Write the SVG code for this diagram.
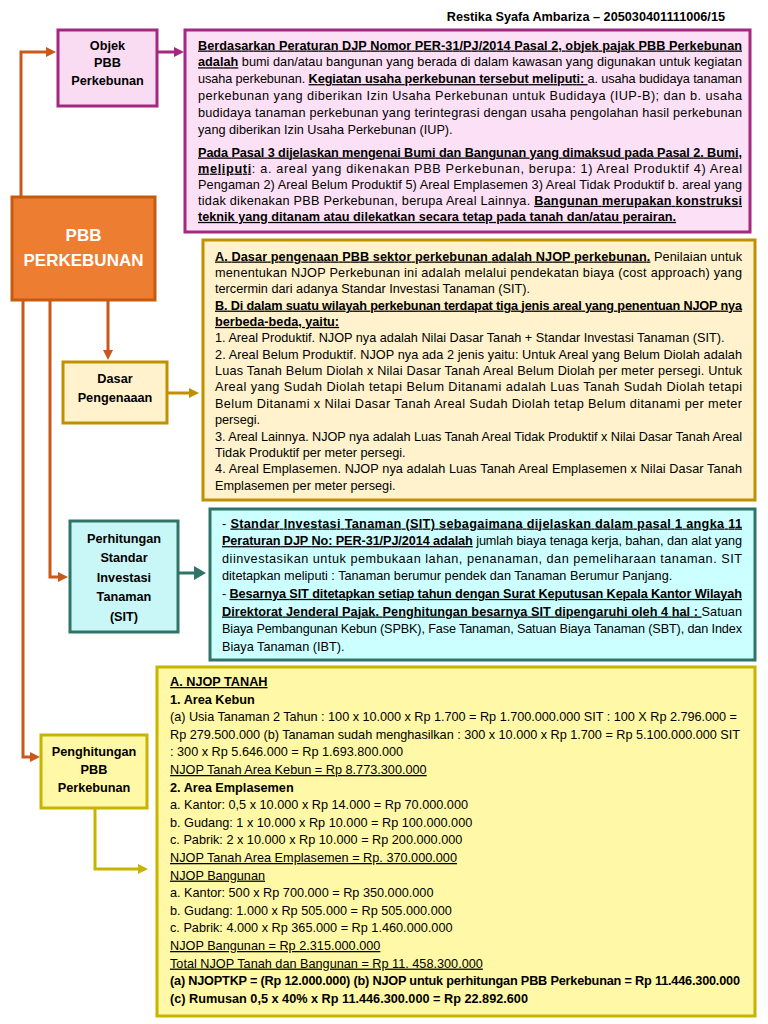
<svg xmlns="http://www.w3.org/2000/svg" width="768" height="1024" viewBox="0 0 768 1024">
<defs>
<style>
text{font-family:"Liberation Sans",Arial,sans-serif;font-size:12.7px;fill:#000}
.b{font-weight:bold}
.u{text-decoration:underline}
.c{text-anchor:middle;font-weight:bold}
.con{fill:none;stroke-width:3}
</style>
<marker id="mo" markerUnits="userSpaceOnUse" markerWidth="10" markerHeight="10" refX="2" refY="5" orient="auto"><path d="M0,0L10,5L0,10z" fill="#C9581A"/></marker>
<marker id="mm" markerUnits="userSpaceOnUse" markerWidth="10" markerHeight="10" refX="2" refY="5" orient="auto"><path d="M0,0L10,5L0,10z" fill="#A3287F"/></marker>
<marker id="mg" markerUnits="userSpaceOnUse" markerWidth="10" markerHeight="10" refX="2" refY="5" orient="auto"><path d="M0,0L10,5L0,10z" fill="#BF9000"/></marker>
<marker id="my" markerUnits="userSpaceOnUse" markerWidth="10" markerHeight="10" refX="2" refY="5" orient="auto"><path d="M0,0L10,5L0,10z" fill="#C8B400"/></marker>
<marker id="mt" markerUnits="userSpaceOnUse" markerWidth="12" markerHeight="14" refX="2" refY="7" orient="auto"><path d="M0,0L12,7L0,14z" fill="#2F7466"/></marker>
</defs>
<rect width="768" height="1024" fill="#fff"/>
<text class="b" x="725" y="21" text-anchor="end">Restika Syafa Ambariza – 205030401111006/15</text>

<g id="connectors">
<path class="con" stroke="#C9581A" d="M21,197V52H48" marker-end="url(#mo)"/>
<path class="con" stroke="#C9581A" d="M108,300V352" marker-end="url(#mo)"/>
<path class="con" stroke="#C9581A" d="M50,300V577H60" marker-end="url(#mo)"/>
<path class="con" stroke="#C9581A" d="M23,300V757H32" marker-end="url(#mo)"/>
<path class="con" stroke="#A3287F" d="M158,52H176" marker-end="url(#mm)"/>
<path class="con" stroke="#BF9000" d="M168,393H191" marker-end="url(#mg)"/>
<path class="con" stroke="#2F7466" stroke-width="5" d="M179,573H196" marker-end="url(#mt)"/>
<path class="con" stroke="#C8B400" d="M95,808V869H140" marker-end="url(#my)"/>
</g>

<g id="objek">
<rect x="58" y="30" width="99" height="76" fill="#FADCF2" stroke="#A3287F" stroke-width="3"/>
<text class="c" x="107.5" y="50">Objek</text>
<text class="c" x="107.5" y="67">PBB</text>
<text class="c" x="107.5" y="85">Perkebunan</text>
</g>

<g id="objek-detail">
<rect x="185" y="30" width="565" height="202" fill="#FCE0F5" stroke="#A3287F" stroke-width="3"/>
<text x="198" y="49.5" textLength="544"><tspan class="b u">Berdasarkan Peraturan DJP Nomor PER-31/PJ/2014 Pasal 2, objek pajak PBB Perkebunan</tspan></text>
<text x="198" y="66.3" textLength="544"><tspan class="b u">adalah</tspan> bumi dan/atau bangunan yang berada di dalam kawasan yang digunakan untuk kegiatan</text>
<text x="198" y="83.1" textLength="544">usaha perkebunan. <tspan class="b u">Kegiatan usaha perkebunan tersebut meliputi: </tspan>a. usaha budidaya tanaman</text>
<text x="198" y="99.9" textLength="544">perkebunan yang diberikan Izin Usaha Perkebunan untuk Budidaya (IUP-B); dan b. usaha</text>
<text x="198" y="116.7" textLength="544">budidaya tanaman perkebunan yang terintegrasi dengan usaha pengolahan hasil perkebunan</text>
<text x="198" y="133.5">yang diberikan Izin Usaha Perkebunan (IUP).</text>
<text x="198" y="156.5" textLength="544"><tspan class="b u">Pada Pasal 3 dijelaskan mengenai Bumi dan Bangunan yang dimaksud pada Pasal 2. Bumi,</tspan></text>
<text x="198" y="172.6" textLength="544"><tspan class="b u">meliputi</tspan>: a. areal yang dikenakan PBB Perkebunan, berupa: 1) Areal Produktif 4) Areal</text>
<text x="198" y="188.7" textLength="544">Pengaman 2) Areal Belum Produktif 5) Areal Emplasemen 3) Areal Tidak Produktif b. areal yang</text>
<text x="198" y="204.8" textLength="544">tidak dikenakan PBB Perkebunan, berupa Areal Lainnya. <tspan class="b u">Bangunan merupakan konstruksi</tspan></text>
<text x="198" y="220.9"><tspan class="b u">teknik yang ditanam atau dilekatkan secara tetap pada tanah dan/atau perairan.</tspan></text>
</g>

<g id="pbb">
<rect x="12" y="197" width="143" height="103" fill="#ED7D31" stroke="#C55A11" stroke-width="3"/>
<text class="c" x="83.5" y="241" style="font-size:17px;fill:#fff">PBB</text>
<text class="c" x="83.5" y="266" style="font-size:17px;fill:#fff">PERKEBUNAN</text>
</g>

<g id="dasar">
<rect x="63" y="362" width="104" height="61" fill="#FFF2CC" stroke="#BF9000" stroke-width="3"/>
<text class="c" x="115" y="383">Dasar</text>
<text class="c" x="115" y="402">Pengenaaan</text>
</g>

<g id="dasar-detail">
<rect x="203" y="240" width="552" height="260" fill="#FFF2CC" stroke="#BF9000" stroke-width="3"/>
<text x="215" y="260.5" textLength="527"><tspan class="b u">A. Dasar pengenaan PBB sektor perkebunan adalah NJOP perkebunan.</tspan> Penilaian untuk</text>
<text x="215" y="276.9" textLength="527">menentukan NJOP Perkebunan ini adalah melalui pendekatan biaya (cost approach) yang</text>
<text x="215" y="293.2">tercermin dari adanya Standar Investasi Tanaman (SIT).</text>
<text x="215" y="309.6" textLength="527"><tspan class="b u">B. Di dalam suatu wilayah perkebunan terdapat tiga jenis areal yang penentuan NJOP nya</tspan></text>
<text x="215" y="325.9"><tspan class="b u">berbeda-beda, yaitu:</tspan></text>
<text x="215" y="342.3">1. Areal Produktif. NJOP nya adalah Nilai Dasar Tanah + Standar Investasi Tanaman (SIT).</text>
<text x="215" y="358.7" textLength="527">2. Areal Belum Produktif. NJOP nya ada 2 jenis yaitu: Untuk Areal yang Belum Diolah adalah</text>
<text x="215" y="375" textLength="527">Luas Tanah Belum Diolah x Nilai Dasar Tanah Areal Belum Diolah per meter persegi. Untuk</text>
<text x="215" y="391.4" textLength="527">Areal yang Sudah Diolah tetapi Belum Ditanami adalah Luas Tanah Sudah Diolah tetapi</text>
<text x="215" y="407.7" textLength="527">Belum Ditanami x Nilai Dasar Tanah Areal Sudah Diolah tetap Belum ditanami per meter</text>
<text x="215" y="424.1">persegi.</text>
<text x="215" y="440.5" textLength="527">3. Areal Lainnya. NJOP nya adalah Luas Tanah Areal Tidak Produktif x Nilai Dasar Tanah Areal</text>
<text x="215" y="456.8">Tidak Produktif per meter persegi.</text>
<text x="215" y="473.2" textLength="527">4. Areal Emplasemen. NJOP nya adalah Luas Tanah Areal Emplasemen x Nilai Dasar Tanah</text>
<text x="215" y="489.5">Emplasemen per meter persegi.</text>
</g>

<g id="sit">
<rect x="70" y="521" width="108" height="111" fill="#C9F7F7" stroke="#2F7466" stroke-width="3"/>
<text class="c" x="124" y="543">Perhitungan</text>
<text class="c" x="124" y="562">Standar</text>
<text class="c" x="124" y="582">Investasi</text>
<text class="c" x="124" y="601">Tanaman</text>
<text class="c" x="124" y="621">(SIT)</text>
</g>

<g id="sit-detail">
<rect x="210" y="509" width="545" height="151" fill="#CCFFFF" stroke="#2F7466" stroke-width="3"/>
<text x="222" y="527.5" textLength="520">- <tspan class="b u">Standar Investasi Tanaman (SIT) sebagaimana dijelaskan dalam pasal 1 angka 11</tspan></text>
<text x="222" y="545.1" textLength="520"><tspan class="b u">Peraturan DJP No: PER-31/PJ/2014 adalah</tspan> jumlah biaya tenaga kerja, bahan, dan alat yang</text>
<text x="222" y="562.7" textLength="520">diinvestasikan untuk pembukaan lahan, penanaman, dan pemeliharaan tanaman. SIT</text>
<text x="222" y="580.3">ditetapkan meliputi : Tanaman berumur pendek dan Tanaman Berumur Panjang.</text>
<text x="222" y="597.9" textLength="520">- <tspan class="b u">Besarnya SIT ditetapkan setiap tahun dengan Surat Keputusan Kepala Kantor Wilayah</tspan></text>
<text x="222" y="615.5" textLength="520"><tspan class="b u">Direktorat Jenderal Pajak. Penghitungan besarnya SIT dipengaruhi oleh 4 hal : </tspan>Satuan</text>
<text x="222" y="633.1" textLength="520">Biaya Pembangunan Kebun (SPBK), Fase Tanaman, Satuan Biaya Tanaman (SBT), dan Index</text>
<text x="222" y="650.7">Biaya Tanaman (IBT).</text>
</g>

<g id="penghitungan">
<rect x="41" y="735" width="106" height="73" fill="#FFF8A6" stroke="#C8B400" stroke-width="3"/>
<text class="c" x="94" y="756">Penghitungan</text>
<text class="c" x="94" y="774">PBB</text>
<text class="c" x="94" y="792">Perkebunan</text>
</g>

<g id="penghitungan-detail">
<rect x="157" y="667" width="598" height="349" fill="#FFF8A6" stroke="#C8B400" stroke-width="3"/>
<text x="170" y="686"><tspan class="b u">A. NJOP TANAH</tspan></text>
<text x="170" y="703.6" class="b">1. Area Kebun</text>
<text x="170" y="721.2" textLength="567">(a) Usia Tanaman 2 Tahun : 100 x 10.000 x Rp 1.700 = Rp 1.700.000.000 SIT : 100 X Rp 2.796.000 =</text>
<text x="170" y="738.8" textLength="570">Rp 279.500.000 (b) Tanaman sudah menghasilkan : 300 x 10.000 x Rp 1.700 = Rp 5.100.000.000 SIT</text>
<text x="170" y="756.4">: 300 x Rp 5.646.000 = Rp 1.693.800.000</text>
<text x="170" y="774"><tspan class="u">NJOP Tanah Area Kebun = Rp 8.773.300.000</tspan></text>
<text x="170" y="791.6" class="b">2. Area Emplasemen</text>
<text x="170" y="809.2">a. Kantor: 0,5 x 10.000 x Rp 14.000 = Rp 70.000.000</text>
<text x="170" y="826.8">b. Gudang: 1 x 10.000 x Rp 10.000 = Rp 100.000.000</text>
<text x="170" y="844.4">c. Pabrik: 2 x 10.000 x Rp 10.000 = Rp 200.000.000</text>
<text x="170" y="862"><tspan class="u">NJOP Tanah Area Emplasemen = Rp. 370.000.000</tspan></text>
<text x="170" y="879.6"><tspan class="u">NJOP Bangunan</tspan></text>
<text x="170" y="897.2">a. Kantor: 500 x Rp 700.000 = Rp 350.000.000</text>
<text x="170" y="914.8">b. Gudang: 1.000 x Rp 505.000 = Rp 505.000.000</text>
<text x="170" y="932.4">c. Pabrik: 4.000 x Rp 365.000 = Rp 1.460.000.000</text>
<text x="170" y="950"><tspan class="u">NJOP Bangunan = Rp 2.315.000.000</tspan></text>
<text x="170" y="967.6"><tspan class="u">Total NJOP Tanah dan Bangunan = Rp 11. 458.300.000</tspan></text>
<text x="170" y="985.2" class="b" textLength="570">(a) NJOPTKP = (Rp 12.000.000) (b) NJOP untuk perhitungan PBB Perkebunan = Rp 11.446.300.000</text>
<text x="170" y="1002.8" class="b">(c) Rumusan 0,5 x 40% x Rp 11.446.300.000 = Rp 22.892.600</text>
</g>
</svg>
